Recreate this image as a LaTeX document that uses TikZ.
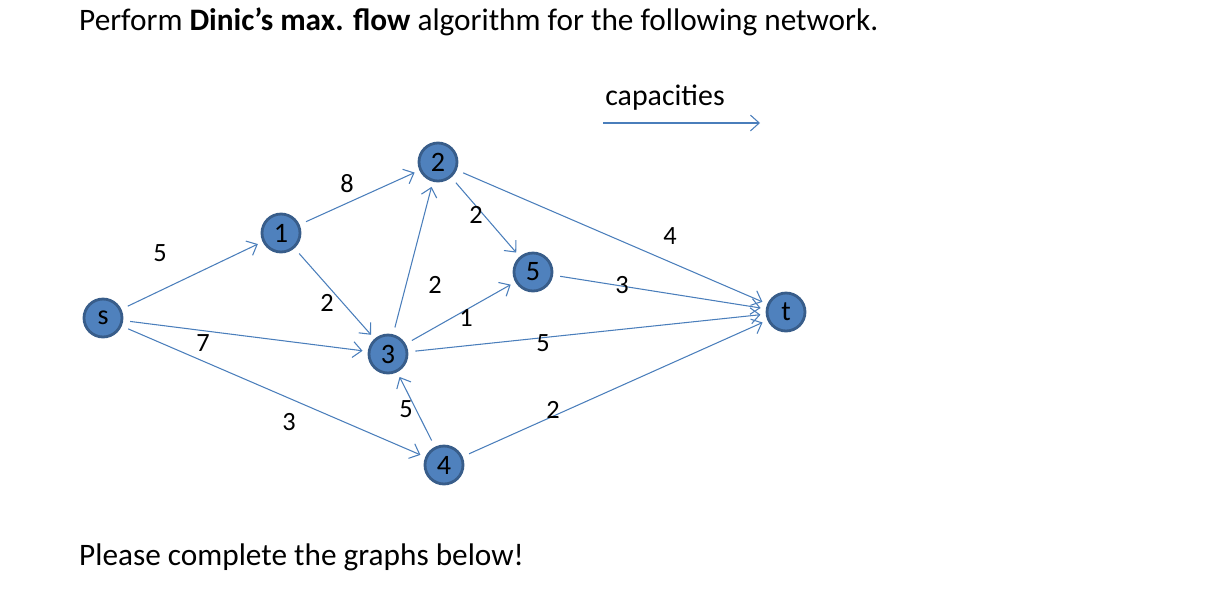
\documentclass[tikz,border=0pt]{standalone}
\usepackage{fontspec}
\setmainfont{Carlito}
\usetikzlibrary{arrows.meta}
\definecolor{nodefill}{HTML}{4F81BD}
\definecolor{nodeline}{HTML}{385D8A}
\definecolor{edgeline}{HTML}{4A7EBB}
\begin{document}
\begin{tikzpicture}[x=0.02cm,y=-0.02cm]

	\tikzstyle vertex=[circle, draw=nodeline, line width=1.6pt, fill=nodefill, minimum size=0.76cm, inner sep=0pt, font=\fontsize{16}{16}\selectfont];
	\tikzstyle flow edge=[draw=edgeline, line width=0.6pt, -{Straight Barb[length=5pt,width=9pt]}, shorten <=4pt, shorten >=3pt];
	\tikzstyle cap label=[font=\fontsize{15}{15}\selectfont, inner sep=0pt];

	\useasboundingbox (0,0) rectangle (1207,606);

	\node[anchor=west, font=\fontsize{17.8}{18}\selectfont] (title) at (73,22) {Perform \textbf{Dinic’s max. flow} algorithm for the following network.};
	\node[anchor=west, font=\fontsize{17.8}{18}\selectfont] (footer) at (73,557) {Please complete the graphs below!};
	\node[font=\fontsize{17}{17}\selectfont] (legend) at (665,98) {capacities};
	\coordinate (legA) at (603,123);
	\coordinate (legB) at (760,123);
	\draw[flow edge, shorten <=0pt, shorten >=0pt] (legA) -- (legB);

	% vertices
	\foreach \n/\x/\y/\t in {s/103/318/s,v1/281/233/1,v2/438/162/2,v5/533/272/5,v3/388/354/3,v4/444/465/4,t/786/312/t}
		\node[vertex] (\n) at (\x,\y) {\t};

	% edges
	\foreach \a/\b in {s/v1,s/v3,s/v4,v1/v2,v1/v3,v3/v2,v2/v5,v3/v5,v2/t,v5/t,v3/t,v4/v3,v4/t}
		\draw[flow edge] (\a) -- (\b);

	% capacities
	\foreach \x/\y/\c in {160/253/5,203/343/7,289/422/3,347/184/8,327/303/2,435/285/2,476/215/2,466/318/1,670/236/4,622/285/3,543/343/5,406/409/5,553/410/2}
		\node[cap label] at (\x,\y) {\c};

\end{tikzpicture}
\end{document}
